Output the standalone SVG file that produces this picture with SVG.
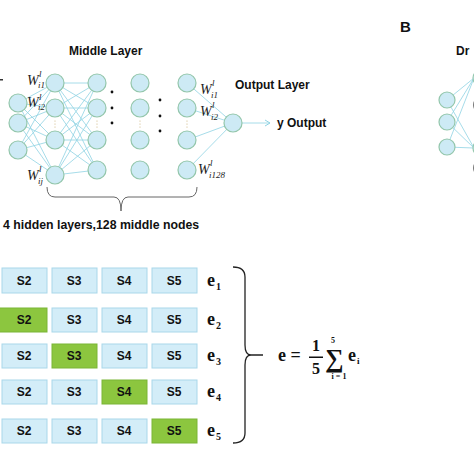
<svg xmlns="http://www.w3.org/2000/svg" width="474" height="474" viewBox="0 0 474 474">
<defs>
<style>
.n{fill:#cdeaf5;stroke:#93c6ab;stroke-width:1.2}
.c{stroke:#8fd3e3;stroke-width:0.8;fill:none}
.t{font-family:"Liberation Sans",Arial,sans-serif;font-weight:bold;fill:#111}
.w{font-family:"Liberation Serif","Times New Roman",serif;font-style:italic;fill:#222}
.m{font-family:"Liberation Serif","Times New Roman",serif;font-weight:bold;fill:#111}
.b{fill:#d3edf8;stroke:#a9d7ea;stroke-width:1}
.g{fill:#8cc63f;stroke:#7ab536;stroke-width:1}
.s{font-family:"Liberation Sans",Arial,sans-serif;font-weight:bold;font-size:12px;fill:#111;text-anchor:middle}
.d{fill:#111}
.vd{fill:#c9b27a}
</style>
<marker id="ah" markerWidth="8" markerHeight="8" refX="6" refY="4" orient="auto" markerUnits="userSpaceOnUse">
<path d="M1,1 L6,4 L1,7" fill="none" stroke="#8fd3e3" stroke-width="1"/>
</marker>
</defs>
<rect width="474" height="474" fill="#fff"/>
<rect x="0" y="79" width="3" height="1.5" fill="#333"/>
<text class="t" x="69" y="55" font-size="12">Middle Layer</text>
<text class="t" x="235" y="89" font-size="12">Output Layer</text>
<text class="t" x="277" y="127" font-size="12">y Output</text>
<text class="t" x="3" y="229" font-size="12.3">4 hidden layers,128 middle nodes</text>
<text class="t" x="400" y="32" font-size="15">B</text>
<text class="t" x="456" y="55" font-size="12">Dr</text>
<g id="connectors">
<path class="c" d="M18,103 L55,83 M18,103 L55,108 M18,103 L55,140 M18,103 L55,175 M18,123 L55,83 M18,123 L55,108 M18,123 L55,140 M18,123 L55,175 M18,150 L55,83 M18,150 L55,108 M18,150 L55,140 M18,150 L55,175"/>
<path class="c" d="M55,83 L97,83 M55,83 L97,108 M55,83 L97,140 M55,83 L97,170 M55,108 L97,83 M55,108 L97,108 M55,108 L97,140 M55,108 L97,170 M55,140 L97,83 M55,140 L97,108 M55,140 L97,140 M55,140 L97,170 M55,175 L97,83 M55,175 L97,108 M55,175 L97,140 M55,175 L97,170"/>
<path class="c" d="M187,83 L233,123 M187,108 L233,123 M187,140 L233,123 M187,170 L233,123"/>
<path class="c" d="M242,123 L270,123" marker-end="url(#ah)"/>
<path class="c" d="M447,100 L474,78 M447,100 L474,148 M447,122 L474,78 M447,122 L474,148 M447,147 L474,78 M447,147 L474,148"/>
</g>
<g id="input">
<circle class="n" cx="18" cy="103" r="9"/><circle class="n" cx="18" cy="123" r="9"/><circle class="n" cx="18" cy="150" r="9"/>
</g>
<g id="hidden1">
<circle class="n" cx="55" cy="83" r="9"/><circle class="n" cx="55" cy="108" r="9"/><circle class="n" cx="55" cy="140" r="9"/><circle class="n" cx="55" cy="175" r="9"/>
</g>
<g id="hidden2">
<circle class="n" cx="97" cy="83" r="9"/><circle class="n" cx="97" cy="108" r="9"/><circle class="n" cx="97" cy="140" r="9"/><circle class="n" cx="97" cy="170" r="9"/>
</g>
<g id="hidden3">
<circle class="n" cx="140" cy="83" r="9"/><circle class="n" cx="140" cy="108" r="9"/><circle class="n" cx="140" cy="140" r="9"/><circle class="n" cx="140" cy="170" r="9"/>
</g>
<g id="hidden4">
<circle class="n" cx="187" cy="83" r="9"/><circle class="n" cx="187" cy="108" r="9"/><circle class="n" cx="187" cy="140" r="9"/><circle class="n" cx="187" cy="170" r="9"/>
</g>
<g id="output">
<circle class="n" cx="233" cy="123" r="9"/>
</g>
<g id="ellipses">
<circle class="d" cx="112" cy="92" r="1.4"/><circle class="d" cx="112" cy="108" r="1.4"/><circle class="d" cx="112" cy="123" r="1.4"/>
<circle class="d" cx="160" cy="100" r="1.4"/><circle class="d" cx="160" cy="116" r="1.4"/><circle class="d" cx="160" cy="131" r="1.4"/>
<g class="vd">
<circle cx="55" cy="121" r="0.6"/><circle cx="55" cy="124" r="0.6"/><circle cx="55" cy="127" r="0.6"/>
<circle cx="97" cy="121" r="0.6"/><circle cx="97" cy="124" r="0.6"/><circle cx="97" cy="127" r="0.6"/>
<circle cx="140" cy="121" r="0.6"/><circle cx="140" cy="124" r="0.6"/><circle cx="140" cy="127" r="0.6"/>
<circle cx="187" cy="121" r="0.6"/><circle cx="187" cy="124" r="0.6"/><circle cx="187" cy="127" r="0.6"/>
</g>
</g>
<g id="weights">
<text class="w" x="27" y="85" font-size="14">W</text><text class="w" x="39" y="77" font-size="9">l</text><text class="w" x="38" y="88" font-size="9">i1</text>
<text class="w" x="27" y="107" font-size="14">W</text><text class="w" x="39" y="99.5" font-size="9">l</text><text class="w" x="38" y="110" font-size="9">i2</text>
<text class="w" x="27" y="180" font-size="14">W</text><text class="w" x="39" y="172" font-size="9">l</text><text class="w" x="38" y="184" font-size="9">ij</text>
<text class="w" x="200" y="94" font-size="14">W</text><text class="w" x="212" y="86" font-size="9">l</text><text class="w" x="211" y="98" font-size="9">i1</text>
<text class="w" x="200" y="116" font-size="14">W</text><text class="w" x="212" y="108" font-size="9">l</text><text class="w" x="211" y="120" font-size="9">i2</text>
<text class="w" x="198" y="174" font-size="14">W</text><text class="w" x="210" y="166" font-size="9">l</text><text class="w" x="209" y="178" font-size="9">i128</text>
</g>
<path d="M47,187 Q47,197 55,197 L114,197 Q121,197 121,211 Q121,197 128,197 L189,197 Q197,197 197,187" fill="none" stroke="#666" stroke-width="1"/>
<g id="panelB">
<circle class="n" cx="447" cy="100" r="8"/><circle class="n" cx="447" cy="122" r="8"/><circle class="n" cx="447" cy="147" r="8"/>
<circle class="n" cx="481" cy="78" r="8"/><circle cx="481" cy="105" r="8" fill="#777"/><circle class="n" cx="481" cy="148" r="8"/><circle cx="481" cy="168" r="8" fill="#777"/>
</g>
<g id="table">
<rect class="b" x="2" y="268" width="45" height="25"/><rect class="b" x="52" y="268" width="45" height="25"/><rect class="b" x="102" y="268" width="45" height="25"/><rect class="b" x="152" y="268" width="45" height="25"/>
<rect class="g" x="-2" y="308" width="49" height="24"/><rect class="b" x="52" y="308" width="45" height="24"/><rect class="b" x="102" y="308" width="45" height="24"/><rect class="b" x="152" y="308" width="45" height="24"/>
<rect class="b" x="2" y="344" width="45" height="24"/><rect class="g" x="52" y="344" width="45" height="24"/><rect class="b" x="102" y="344" width="45" height="24"/><rect class="b" x="152" y="344" width="45" height="24"/>
<rect class="b" x="2" y="380" width="45" height="24"/><rect class="b" x="52" y="380" width="45" height="24"/><rect class="g" x="102" y="380" width="45" height="24"/><rect class="b" x="152" y="380" width="45" height="24"/>
<rect class="b" x="2" y="419" width="45" height="24"/><rect class="b" x="52" y="419" width="45" height="24"/><rect class="b" x="102" y="419" width="45" height="24"/><rect class="g" x="152" y="419" width="45" height="24"/>
<text class="s" x="24" y="285">S2</text><text class="s" x="74" y="285">S3</text><text class="s" x="124" y="285">S4</text><text class="s" x="174" y="285">S5</text>
<text class="s" x="24" y="324">S2</text><text class="s" x="74" y="324">S3</text><text class="s" x="124" y="324">S4</text><text class="s" x="174" y="324">S5</text>
<text class="s" x="24" y="360">S2</text><text class="s" x="74" y="360">S3</text><text class="s" x="124" y="360">S4</text><text class="s" x="174" y="360">S5</text>
<text class="s" x="24" y="396">S2</text><text class="s" x="74" y="396">S3</text><text class="s" x="124" y="396">S4</text><text class="s" x="174" y="396">S5</text>
<text class="s" x="24" y="435">S2</text><text class="s" x="74" y="435">S3</text><text class="s" x="124" y="435">S4</text><text class="s" x="174" y="435">S5</text>
<text class="m" x="207" y="286" font-size="18">e</text><text class="m" x="216" y="290" font-size="10">1</text>
<text class="m" x="207" y="325" font-size="18">e</text><text class="m" x="216" y="329" font-size="10">2</text>
<text class="m" x="207" y="361" font-size="18">e</text><text class="m" x="216" y="365" font-size="10">3</text>
<text class="m" x="207" y="397" font-size="18">e</text><text class="m" x="216" y="401" font-size="10">4</text>
<text class="m" x="207" y="436" font-size="18">e</text><text class="m" x="216" y="440" font-size="10">5</text>
</g>
<path d="M233,267 Q245,267 245,277 L245,345 Q245,355 251,355 Q245,355 245,365 L245,433 Q245,443 233,443 M251,355 L263,355" fill="none" stroke="#222" stroke-width="1.3"/>
<g id="formula">
<text class="m" x="278" y="361" font-size="18">e =</text>
<text class="m" x="316" y="351" font-size="16" text-anchor="middle">1</text>
<rect x="309" y="356.5" width="14" height="1.5" fill="#111"/>
<text class="m" x="316" y="374" font-size="16" text-anchor="middle">5</text>
<text class="m" x="325" y="367" font-size="26">∑</text>
<text class="m" x="331" y="343" font-size="8">5</text>
<text class="m" x="339" y="379" font-size="8" text-anchor="middle">i = 1</text>
<text class="m" x="348" y="361" font-size="18">e</text><text class="m" x="357" y="364" font-size="9">i</text>
</g>
</svg>
